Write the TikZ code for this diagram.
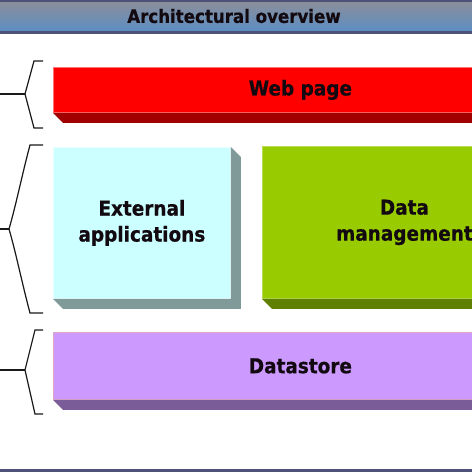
\documentclass[tikz,border=0pt]{standalone}
\usepackage{fontspec}
\setmainfont{DejaVu Sans}[FakeStretch=0.9, BoldFeatures={FakeBold=0.6}]
\definecolor{titletop}{HTML}{8E8E98}
\definecolor{titlebot}{HTML}{5A8EC4}
\definecolor{titleline}{HTML}{4E5278}
\definecolor{webfill}{HTML}{FF0000}
\definecolor{webshade}{HTML}{A00000}
\definecolor{webedge}{HTML}{FF7070}
\definecolor{extfill}{HTML}{CCFFFF}
\definecolor{extshade}{HTML}{809A9A}
\definecolor{extedge}{HTML}{E8FFFF}
\definecolor{dmfill}{HTML}{99CC00}
\definecolor{dmshade}{HTML}{5F7F00}
\definecolor{dmedge}{HTML}{B8DC50}
\definecolor{dsfill}{HTML}{CC99FF}
\definecolor{dsshade}{HTML}{7A5C99}
\definecolor{dsedge}{HTML}{E0A8C8}
\definecolor{txt}{HTML}{120A10}
\begin{document}
\begin{tikzpicture}[x=1pt,y=-1pt,
  layerbox/.style={draw, line width=0.8pt, anchor=north west, inner sep=0pt,
    text=txt, align=center, font=\bfseries\fontsize{20.5}{26}\selectfont},
  bracepath/.style={draw=black!90, line width=1.2pt, line join=miter},
  titletext/.style={text=txt, font=\bfseries\fontsize{18.5}{22}\selectfont}
]
\useasboundingbox (0,0) rectangle (472,472);
\clip (0,0) rectangle (472,472);
\fill[white] (0,0) rectangle (472,472);
% title bar
\shade[top color=titletop, bottom color=titlebot] (0,0) rectangle (472,32);
\fill[titleline] (0,0) rectangle (472,2);
\fill[titleline] (0,31) rectangle (472,34);
\node[titletext] (title) at (234,16) {Architectural overview};
\fill[titleline] (0,469) rectangle (472,472);
% boxes
\node[layerbox, draw=webedge, fill=webfill, minimum width=494, minimum height=45] (web) at (53,67) {Web page};
\node[layerbox, draw=extedge, fill=extfill, minimum width=177, minimum height=151] (ext) at (53,147) {External\\applications};
\node[layerbox, draw=dmedge, fill=dmfill, minimum width=284, minimum height=152] (dm) at (262,146) {Data\\management};
\node[layerbox, draw=dsedge, fill=dsfill, minimum width=494, minimum height=67] (ds) at (53,332) {Datastore};
% shadows
\foreach \n/\c in {web/webshade, ext/extshade, dm/dmshade, ds/dsshade}{
  \fill[\c] (\n.south west) -- ([shift={(10,10)}]\n.south west) -- ([shift={(10,10)}]\n.south east)
    -- ([shift={(10,10)}]\n.north east) -- (\n.north east) -- (\n.south east) -- cycle;
}
% braces
\coordinate (b1t) at (43,61); \coordinate (b1b) at (43,128); \coordinate (b1m) at (25,94); \coordinate (b1e) at (0,94);
\draw[bracepath] (b1t) -- (34,61) -- (b1m) -- (34,128) -- (b1b);
\draw[bracepath] (b1m) -- (b1e);
\coordinate (b2t) at (43,145); \coordinate (b2b) at (43,313); \coordinate (b2m) at (9,229); \coordinate (b2e) at (0,229);
\draw[bracepath] (b2t) -- (30,145) .. controls (22,175) and (16,205) .. (b2m) .. controls (16,253) and (22,283) .. (30,313) -- (b2b);
\draw[bracepath] (b2m) -- (b2e);
\coordinate (b3t) at (43,330); \coordinate (b3b) at (43,414); \coordinate (b3m) at (25,370); \coordinate (b3e) at (0,370);
\draw[bracepath] (b3t) -- (35,330) -- (b3m) -- (35,414) -- (b3b);
\draw[bracepath] (b3m) -- (b3e);
\end{tikzpicture}
\end{document}
